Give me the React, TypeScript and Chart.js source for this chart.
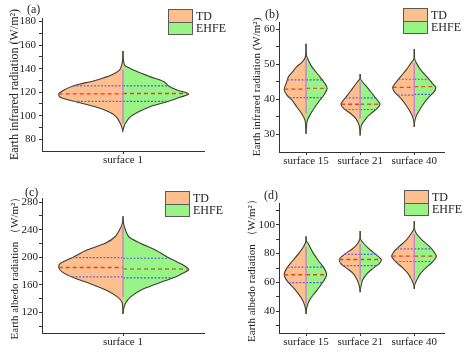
import React, { useEffect, useRef } from 'react';
import { Chart, registerables } from 'chart.js';
Chart.register(...registerables);

type Pair = [number, number]; // [value, half-width in category units]

// ---------- Panel (a) ----------
const aCategories = ['surface 1'];
const aMajorTicks = [80, 100, 120, 140, 160, 180];
const aMinorTicks = [90, 110, 130, 150, 170];
const aTD: Pair[][] = [[
  [155, 0], [148, 0.004], [143, 0.016], [139, 0.041], [134.7, 0.136], [130.4, 0.321], [125.3, 0.617],
  [121.9, 0.728], [118.5, 0.794], [115.6, 0.774], [112.2, 0.605], [107.6, 0.342], [103.3, 0.177],
  [99, 0.083], [93.3, 0.033], [89, 0.009], [86, 0],
]];
const aEHFE: Pair[][] = [[
  [155, 0], [148, 0.004], [143, 0.019], [141.8, 0.041], [137.5, 0.173], [133.2, 0.333], [129, 0.502],
  [125.3, 0.564], [121.9, 0.667], [118.5, 0.811], [115.6, 0.704], [112.2, 0.564], [107.6, 0.333],
  [103.3, 0.194], [99, 0.09], [93.3, 0.028], [90, 0.01], [87.6, 0],
]];
const aTDQuartiles = [[112.2, 118.5, 125.3]];
const aEHFEQuartiles = [[112.2, 118.8, 125.3]];

// ---------- Panel (b) ----------
const bCategories = ['surface 15', 'surface 21', 'surface 40'];
const bMajorTicks = [30, 40, 50, 60];
const bMinorTicks = [35, 45, 55];
const bTD: Pair[][] = [
  [[55.8, 0], [52.5, 0.007], [51.5, 0.028], [50.3, 0.092], [49.3, 0.171], [47.5, 0.266], [46.4, 0.325],
   [44.5, 0.367], [42.8, 0.404], [41.2, 0.354], [39.8, 0.262], [37.8, 0.171], [35.9, 0.079], [34, 0.018],
   [32, 0.006], [30.2, 0]],
  [[47.2, 0], [45.8, 0.007], [45, 0.05], [43.1, 0.141], [41.2, 0.233], [39.8, 0.306], [38.6, 0.354],
   [37.4, 0.306], [35.9, 0.171], [34.5, 0.079], [32.6, 0.018], [31, 0.006], [29.7, 0]],
  [[54.3, 0], [51.5, 0.007], [50.3, 0.061], [48.3, 0.152], [46.4, 0.257], [44.5, 0.354], [43.4, 0.398],
   [42.1, 0.367], [40.2, 0.244], [38.3, 0.152], [36.4, 0.073], [35, 0.031], [33.5, 0.006], [32.1, 0]],
];
const bEHFE: Pair[][] = [
  [[55.8, 0], [52.5, 0.007], [51.2, 0.042], [49.3, 0.105], [46.4, 0.257], [44.5, 0.349], [43.1, 0.391],
   [41.2, 0.33], [39.8, 0.257], [37.8, 0.165], [35.9, 0.086], [34, 0.024], [32, 0.006], [30.2, 0]],
  [[47.2, 0], [45.8, 0.007], [45, 0.042], [43.1, 0.147], [41.2, 0.244], [39.8, 0.317], [38.6, 0.367],
   [37.4, 0.317], [35.9, 0.196], [34.5, 0.105], [32.6, 0.024], [31, 0.006], [29.7, 0]],
  [[54.3, 0], [51.5, 0.007], [50.3, 0.042], [48.3, 0.123], [46, 0.257], [44.5, 0.336], [43.4, 0.398],
   [42.1, 0.367], [40.2, 0.244], [38.3, 0.152], [36.4, 0.079], [35, 0.031], [33.5, 0.006], [32.1, 0]],
];
const bTDQuartiles = [[40.5, 42.9, 45.5], [37.1, 38.6, 40.4], [41.2, 43.4, 45.7]];
const bEHFEQuartiles = [[40.5, 43.1, 45.5], [37.1, 38.6, 40.4], [41.4, 43.6, 45.7]];

// ---------- Panel (c) ----------
const cCategories = ['surface 1'];
const cMajorTicks = [120, 160, 200, 240, 280];
const cMinorTicks = [100, 140, 180, 220, 260];
const cTD: Pair[][] = [[
  [259.4, 0], [252, 0.004], [244.8, 0.021], [230.1, 0.095], [220.3, 0.219], [210.5, 0.444], [199.3, 0.63],
  [191, 0.774], [185.1, 0.794], [178.8, 0.753], [171.4, 0.63], [161.6, 0.404], [151.8, 0.198],
  [142.1, 0.065], [134.7, 0.012], [127, 0.004], [117.6, 0],
]];
const cEHFE: Pair[][] = [[
  [259.4, 0], [252, 0.004], [244.8, 0.016], [230.1, 0.07], [220.3, 0.214], [210.5, 0.399], [199.3, 0.564],
  [191, 0.707], [182.2, 0.811], [176.4, 0.728], [171.4, 0.646], [161.6, 0.42], [151.8, 0.214],
  [142.1, 0.09], [132.3, 0.028], [122.5, 0.004], [117.6, 0],
]];
const cTDQuartiles = [[171.4, 185.1, 199.3]];
const cEHFEQuartiles = [[170, 183, 198.5]];

// ---------- Panel (d) ----------
const dCategories = ['surface 15', 'surface 21', 'surface 40'];
const dMajorTicks = [40, 60, 80, 100];
const dMinorTicks = [30, 50, 70, 90, 110];
const dTD: Pair[][] = [
  [[91.9, 0], [88, 0.007], [84.5, 0.05], [79.8, 0.141], [75.2, 0.244], [70.1, 0.354], [65.3, 0.404],
   [61.3, 0.354], [56.7, 0.244], [52.1, 0.141], [47.5, 0.061], [43.9, 0.024], [41, 0.006], [38.2, 0]],
  [[95.6, 0], [90, 0.007], [86.8, 0.05], [83.3, 0.141], [79.4, 0.294], [75.9, 0.385], [72.9, 0.354],
   [69.4, 0.233], [65.9, 0.123], [61.3, 0.05], [57.8, 0.018], [55.5, 0.006], [53.2, 0]],
  [[102.5, 0], [97, 0.007], [93.7, 0.061], [89.1, 0.152], [84.5, 0.294], [81, 0.38], [78, 0.417],
   [74.1, 0.336], [70.1, 0.215], [65.9, 0.11], [61.3, 0.042], [58.5, 0.009], [55.5, 0]],
];
const dEHFE: Pair[][] = [
  [[91.9, 0], [88.5, 0.007], [86.8, 0.042], [81, 0.123], [75.2, 0.226], [70.1, 0.33], [65.3, 0.38],
   [61.3, 0.33], [56.7, 0.244], [52.1, 0.147], [47.5, 0.061], [43.9, 0.024], [41, 0.006], [38.2, 0]],
  [[95.6, 0], [90, 0.007], [88, 0.042], [83.3, 0.165], [79.4, 0.288], [75.9, 0.391], [72.9, 0.349],
   [69.4, 0.226], [65.9, 0.123], [61.3, 0.042], [57.8, 0.018], [55.5, 0.006], [53.2, 0]],
  [[102.5, 0], [97, 0.007], [93.7, 0.042], [89.1, 0.152], [84.5, 0.294], [81, 0.367], [78, 0.409],
   [74.1, 0.336], [70.1, 0.215], [65.9, 0.11], [61.3, 0.042], [58.5, 0.009], [55.5, 0]],
];
const dTDQuartiles = [[59.9, 65.3, 70.6], [71.7, 75.9, 79.4], [74.5, 78.2, 83.3]];
const dEHFEQuartiles = [[59.9, 65.3, 70.6], [71.7, 75.9, 79.4], [74.5, 78.2, 83.3]];

const seriesNames = ['TD', 'EHFE'];
const titleIR = 'Earth infrared radiation (W/m²)';
const titleAlbedo = 'Earth albedo radiation （W/m²）';

// ---------- styles ----------
const FONT = "'Liberation Serif', 'Times New Roman', serif";
const TD_FILL = '#fdbf8e';
const EHFE_FILL = '#98f585';
const OUTLINE = '#3e3e32';
const PINK = '#c97fcf';
const Q_TD = '#7a5fd8';
const Q_EH = '#4a62e0';
const MED_TD = '#e8402a';

interface PanelCfg {
  tag: string; title: string; categories: string[];
  td: Pair[][]; eh: Pair[][]; tdQ: number[][]; ehQ: number[][];
  major: number[]; minor: number[];
  yMin: number; yMax: number; xMin: number; xMax: number;
  left: number; top: number; w: number; h: number;
  padTop: number; padRight: number; xAxisH: number;
  titleSize: number; titlePad: number; tickPad: number;
  medEH: string;
  tagX: number; tagY: number; legX: number; legY: number;
}

const panels: PanelCfg[] = [
  { tag: '(a)', title: titleIR, categories: aCategories, td: aTD, eh: aEHFE, tdQ: aTDQuartiles, ehQ: aEHFEQuartiles,
    major: aMajorTicks, minor: aMinorTicks, yMin: 70, yMax: 183, xMin: 0, xMax: 2,
    left: 0, top: 0, w: 237, h: 180, padTop: 18, padRight: 33, xAxisH: 29, titleSize: 12, titlePad: 8, tickPad: 3,
    medEH: '#e8402a', tagX: 27, tagY: 9, legX: 168, legY: 9 },
  { tag: '(b)', title: titleIR, categories: bCategories, td: bTD, eh: bEHFE, tdQ: bTDQuartiles, ehQ: bEHFEQuartiles,
    major: bMajorTicks, minor: bMinorTicks, yMin: 25, yMax: 62, xMin: 0.5, xMax: 3.55,
    left: 237, top: 0, w: 237, h: 180, padTop: 22, padRight: 30, xAxisH: 28, titleSize: 11, titlePad: 14, tickPad: 1,
    medEH: '#d0602a', tagX: 265, tagY: 14, legX: 403, legY: 8 },
  { tag: '(c)', title: titleAlbedo, categories: cCategories, td: cTD, eh: cEHFE, tdQ: cTDQuartiles, ehQ: cEHFEQuartiles,
    major: cMajorTicks, minor: cMinorTicks, yMin: 90, yMax: 286, xMin: 0, xMax: 2,
    left: 0, top: 180, w: 237, h: 183, padTop: 18, padRight: 33, xAxisH: 30, titleSize: 11, titlePad: 8.5, tickPad: 1,
    medEH: '#8c8a3e', tagX: 25, tagY: 192, legX: 165, legY: 191 },
  { tag: '(d)', title: titleAlbedo, categories: dCategories, td: dTD, eh: dEHFE, tdQ: dTDQuartiles, ehQ: dEHFEQuartiles,
    major: dMajorTicks, minor: dMinorTicks, yMin: 25, yMax: 115, xMin: 0.5, xMax: 3.55,
    left: 237, top: 180, w: 237, h: 183, padTop: 23, padRight: 30, xAxisH: 30, titleSize: 11, titlePad: 8.5, tickPad: 1,
    medEH: '#e04030', tagX: 264, tagY: 195, legX: 404, legY: 190 },
];

function halfWidthAt(shape: Pair[], y: number): number {
  for (let i = 0; i < shape.length - 1; i++) {
    const [y0, w0] = shape[i];
    const [y1, w1] = shape[i + 1];
    if (y <= y0 && y >= y1) {
      const t = (y0 - y) / (y0 - y1 || 1);
      return w0 + (w1 - w0) * t;
    }
  }
  return 0;
}

function buildDatasets(p: PanelCfg) {
  const ds: any[] = [];
  const line = (pts: { x: number; y: number }[], color: string, dash: number[], width: number) =>
    ds.push({ type: 'scatter', data: pts, showLine: true, borderColor: color, borderDash: dash, borderWidth: width,
      pointRadius: 0, fill: false, tension: 0, order: 0 });
  p.categories.forEach((_, i) => {
    const c = i + 1;
    const td = p.td[i];
    const eh = p.eh[i];
    const body = td.filter(([, w]) => w >= 0.02);
    line([{ x: c, y: body[0][0] }, { x: c, y: body[body.length - 1][0] }], PINK, [], 1.4);
    p.tdQ[i].forEach((q, k) => {
      const w = halfWidthAt(td, q);
      const med = k === 1;
      line([{ x: c - w, y: q }, { x: c, y: q }], med ? MED_TD : Q_TD, med ? [4, 3] : [2, 1.5], med ? 1.4 : 1.2);
    });
    p.ehQ[i].forEach((q, k) => {
      const w = halfWidthAt(eh, q);
      const med = k === 1;
      line([{ x: c, y: q }, { x: c + w, y: q }], med ? p.medEH : Q_EH, med ? [4, 3] : [2, 1.5], med ? 1.4 : 1.2);
    });
    ds.push({ type: 'scatter', label: seriesNames[0], data: td.map(([y, w]) => ({ x: c - w, y })), showLine: true,
      fill: 'shape', backgroundColor: TD_FILL, borderColor: OUTLINE, borderWidth: 1.1, pointRadius: 0, tension: 0.3, order: 1 });
    ds.push({ type: 'scatter', label: seriesNames[1], data: eh.map(([y, w]) => ({ x: c + w, y })), showLine: true,
      fill: 'shape', backgroundColor: EHFE_FILL, borderColor: OUTLINE, borderWidth: 1.1, pointRadius: 0, tension: 0.3, order: 1 });
  });
  return ds;
}

function Panel({ p }: { p: PanelCfg }) {
  const ref = useRef<HTMLCanvasElement>(null);
  useEffect(() => {
    if (!ref.current) return;
    const allTicks = [...p.major, ...p.minor].filter(v => v >= p.yMin && v <= p.yMax).sort((a, b) => a - b);
    const chart = new Chart(ref.current, {
      type: 'scatter',
      data: { datasets: buildDatasets(p) },
      options: {
        responsive: false,
        animation: false,
        events: [],
        devicePixelRatio: 1,
        layout: { padding: { top: p.padTop, right: p.padRight, left: 0, bottom: 0 } },
        plugins: { legend: { display: false }, tooltip: { enabled: false } },
        scales: {
          x: {
            type: 'linear', min: p.xMin, max: p.xMax,
            afterBuildTicks: (s: any) => { s.ticks = p.categories.map((_, i) => ({ value: i + 1 })); },
            afterFit: (s: any) => { s.height = p.xAxisH; },
            ticks: { autoSkip: false, maxRotation: 0, padding: 0, color: '#222', font: { family: FONT, size: 11 },
              callback: (_v: any, i: number) => p.categories[i] },
            grid: { display: true, drawOnChartArea: false, drawTicks: true, tickLength: 3, color: '#333' },
            border: { display: true, color: '#333', width: 1 },
          },
          y: {
            type: 'linear', min: p.yMin, max: p.yMax,
            afterBuildTicks: (s: any) => { s.ticks = allTicks.map(v => ({ value: v })); },
            afterFit: (s: any) => { s.width = 42; },
            ticks: { autoSkip: false, padding: p.tickPad, color: '#222', font: { family: FONT, size: 11 },
              callback: (v: any) => (p.major.includes(Number(v)) ? String(v) : '') },
            grid: { display: true, drawOnChartArea: false, drawTicks: true, tickLength: 3, color: '#333' },
            border: { display: true, color: '#333', width: 1 },
            title: { display: true, text: p.title, color: '#222', font: { family: FONT, size: p.titleSize },
              padding: { top: p.titlePad, bottom: 0 } },
          },
        },
      } as any,
    });
    return () => chart.destroy();
  }, [p]);

  const txt: React.CSSProperties = { position: 'absolute', fontFamily: FONT, color: '#222', whiteSpace: 'nowrap' };
  return (
    <>
      <canvas ref={ref} width={p.w} height={p.h}
        style={{ position: 'absolute', left: p.left, top: p.top, width: p.w, height: p.h }} />
      <div style={{ ...txt, left: p.tagX, top: p.tagY - 7, fontSize: 12, lineHeight: '14px' }}>{p.tag}</div>
      {seriesNames.map((name, i) => (
        <React.Fragment key={name}>
          <div style={{ position: 'absolute', left: p.legX, top: p.legY + i * 12.5, width: 25, height: 13.5,
            boxSizing: 'border-box', border: '1px solid #5a5a5a', background: i === 0 ? TD_FILL : EHFE_FILL }} />
          <div style={{ ...txt, left: p.legX + 28, top: p.legY + i * 12.5 - 0.5, fontSize: 12, lineHeight: '14px' }}>{name}</div>
        </React.Fragment>
      ))}
    </>
  );
}

export default function App() {
  return (
    <div style={{ position: 'absolute', left: 0, top: 0, width: 474, height: 363, background: '#fff', overflow: 'hidden' }}>
      {panels.map(p => <Panel key={p.tag} p={p} />)}
    </div>
  );
}
